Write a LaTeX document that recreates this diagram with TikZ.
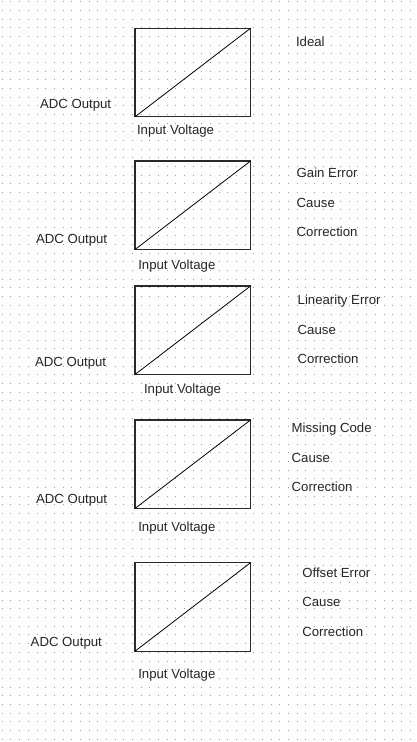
\documentclass[tikz,border=0pt]{standalone}
\usepackage{fontspec}
\setmainfont{Liberation Sans}
\definecolor{dotc}{HTML}{9A9A9A}
\definecolor{boxc}{HTML}{2A2A2A}
\begin{document}
\begin{tikzpicture}[x=1pt,y=-1pt,
  every node/.style={inner sep=0pt,outer sep=0pt,font=\fontsize{13.2}{15.5}\selectfont,text=black!85},
  lbl/.style={anchor=base west},
  plot/.style={draw=boxc,line width=1.2pt,minimum width=115.5pt,minimum height=88.5pt,anchor=north west},
  diag/.style={draw=black,line width=0.8pt}]
\fill[white] (0,0) rectangle (417,742);
\useasboundingbox (0,0) rectangle (417,742);
\foreach \i in {0,...,47}{
  \foreach \j in {0,...,85}{
    \fill[dotc] ({2.3+\i*8.675-0.5},{1.7+\j*8.675-0.5}) rectangle ++(1,1);
  }
}
% panel 1
\node[plot] (b1) at (135,28.3) {};
\draw[diag] (b1.south west) -- (b1.north east);
\node[lbl] (a1) at (40,108.8) {ADC Output};
\node[lbl] (i1) at (137,134.8) {Input Voltage};
\node[lbl] (t1) at (296,46.8) {Ideal};
% panel 2
\node[plot] (b2) at (135,161) {};
\draw[diag] (b2.south west) -- (b2.north east);
\node[lbl] (a2) at (36,243.8) {ADC Output};
\node[lbl] (i2) at (138.3,269.8) {Input Voltage};
\node[lbl] (t2) at (296.7,177.8) {Gain Error};
\node[lbl] (c2) at (296.7,207.8) {Cause};
\node[lbl] (r2) at (296.7,236.8) {Correction};
% panel 3
\node[plot] (b3) at (135,286) {};
\draw[diag] (b3.south west) -- (b3.north east);
\node[lbl] (a3) at (35,366.8) {ADC Output};
\node[lbl] (i3) at (144,393.8) {Input Voltage};
\node[lbl] (t3) at (297.7,304.8) {Linearity Error};
\node[lbl] (c3) at (297.7,334.8) {Cause};
\node[lbl] (r3) at (297.7,363.8) {Correction};
% panel 4
\node[plot] (b4) at (135,420) {};
\draw[diag] (b4.south west) -- (b4.north east);
\node[lbl] (a4) at (36,503.8) {ADC Output};
\node[lbl] (i4) at (138.3,531.8) {Input Voltage};
\node[lbl] (t4) at (291.7,432.8) {Missing Code};
\node[lbl] (c4) at (291.7,462.8) {Cause};
\node[lbl] (r4) at (291.7,491.8) {Correction};
% panel 5
\node[plot] (b5) at (135,562.7) {};
\draw[diag] (b5.south west) -- (b5.north east);
\node[lbl] (a5) at (30.7,646.8) {ADC Output};
\node[lbl] (i5) at (138.3,678.8) {Input Voltage};
\node[lbl] (t5) at (302.3,577.8) {Offset Error};
\node[lbl] (c5) at (302.3,606.8) {Cause};
\node[lbl] (r5) at (302.3,636.8) {Correction};
\end{tikzpicture}
\end{document}
